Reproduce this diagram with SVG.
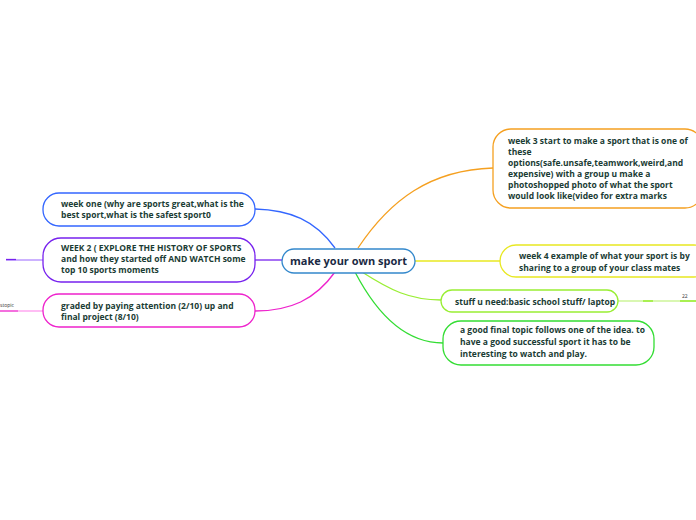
<svg xmlns="http://www.w3.org/2000/svg" width="696" height="520" viewBox="0 0 696 520">
<style>
text{font-family:"Open Sans","Noto Sans",sans-serif;font-size:8.5px;font-weight:bold;fill:#1a3c34}
.b{fill:#fff;stroke-width:1.3}
.c{fill:none;stroke-width:1.3}
</style>
<rect width="696" height="520" fill="#fff"/>
<g id="connectors">
<path class="c" stroke="#3366ff" d="M335,248 C315,220 290,210 255,209"/>
<path class="c" stroke="#7722ee" d="M282,260 L255,260"/>
<path class="c" stroke="#ee22cc" d="M335,272 C315,300 290,311 255,311"/>
<path class="c" stroke="#f5a020" d="M358,248 C390,200 430,170 493,168"/>
<path class="c" stroke="#e8e820" d="M415,261 L500,261"/>
<path class="c" stroke="#99ee33" d="M362,272 C390,290 410,300 441,300"/>
<path class="c" stroke="#33dd33" d="M355,272 C380,320 410,343 443,343"/>
<path class="c" stroke="#bb99ff" d="M43,260 L6,260"/>
<path class="c" stroke="#7722ee" stroke-width="2" d="M6,259.5 L16,259.5"/>
<path class="c" stroke="#ff99ee" d="M43,311 L18,311"/>
<path class="c" stroke="#ee22cc" stroke-width="2" d="M0,311 L18,311"/>
<path class="c" stroke="#ccf599" d="M618,301 L696,301"/>
<path class="c" stroke="#99ee33" stroke-width="2" d="M643,301 L653,301 M680,301 L696,301"/>
</g>
<g id="center"><rect class="b" stroke="#3388cc" x="282" y="249" width="133" height="24" rx="12"/><text x="348.5" y="265" text-anchor="middle" style="font-size:11px;fill:#1a2a44">make your own sport</text></g>
<g id="week1"><rect class="b" stroke="#3366ff" x="43" y="193" width="212" height="33" rx="16"/><text x="61" y="207">week one  (why are sports great,what is the</text><text x="61" y="218">best sport,what is the safest sport0</text></g>
<g id="week2"><rect class="b" stroke="#7722ee" x="43" y="238" width="212" height="44" rx="18"/><text x="61" y="251">WEEK 2 ( EXPLORE THE HISTORY OF SPORTS</text><text x="61" y="262">and how  they started off AND WATCH some</text><text x="61" y="273">top 10 sports moments</text></g>
<g id="graded"><rect class="b" stroke="#ee22cc" x="43" y="294" width="212" height="33" rx="16"/><text x="61" y="309">graded by  paying attention (2/10) up and</text><text x="61" y="320">final project (8/10)</text></g>
<g id="week3"><rect class="b" stroke="#f5a020" x="493" y="129" width="210" height="79" rx="18"/><text x="508" y="144">week 3 start to make a sport that is one of</text><text x="508" y="155">these</text><text x="508" y="166">options(safe.unsafe,teamwork,weird,and</text><text x="508" y="177">expensive) with a group u make a</text><text x="508" y="188">photoshopped photo of what the sport</text><text x="508" y="199">would look like(video for extra marks</text></g>
<g id="week4"><rect class="b" stroke="#e8e820" x="500" y="245" width="210" height="32" rx="16"/><text x="519" y="259">week 4 example of what your sport is by</text><text x="519" y="271">sharing to a group of your class mates</text></g>
<g id="stuff"><rect class="b" stroke="#99ee33" x="441" y="290" width="177" height="22" rx="11"/><text x="455" y="305">stuff u need:basic school stuff/ laptop</text></g>
<g id="final"><rect class="b" stroke="#33dd33" x="443" y="321" width="211" height="44" rx="18"/><text x="460" y="333">a good final topic follows one of the idea. to</text><text x="460" y="345">have a good successful sport it has to be</text><text x="460" y="357">interesting to watch and play.</text></g>
<text x="0" y="307" style="font-size:5px;font-weight:normal;fill:#333">stopic</text>
<text x="682" y="298" style="font-size:5px;font-weight:normal;fill:#333">22</text>
</svg>
